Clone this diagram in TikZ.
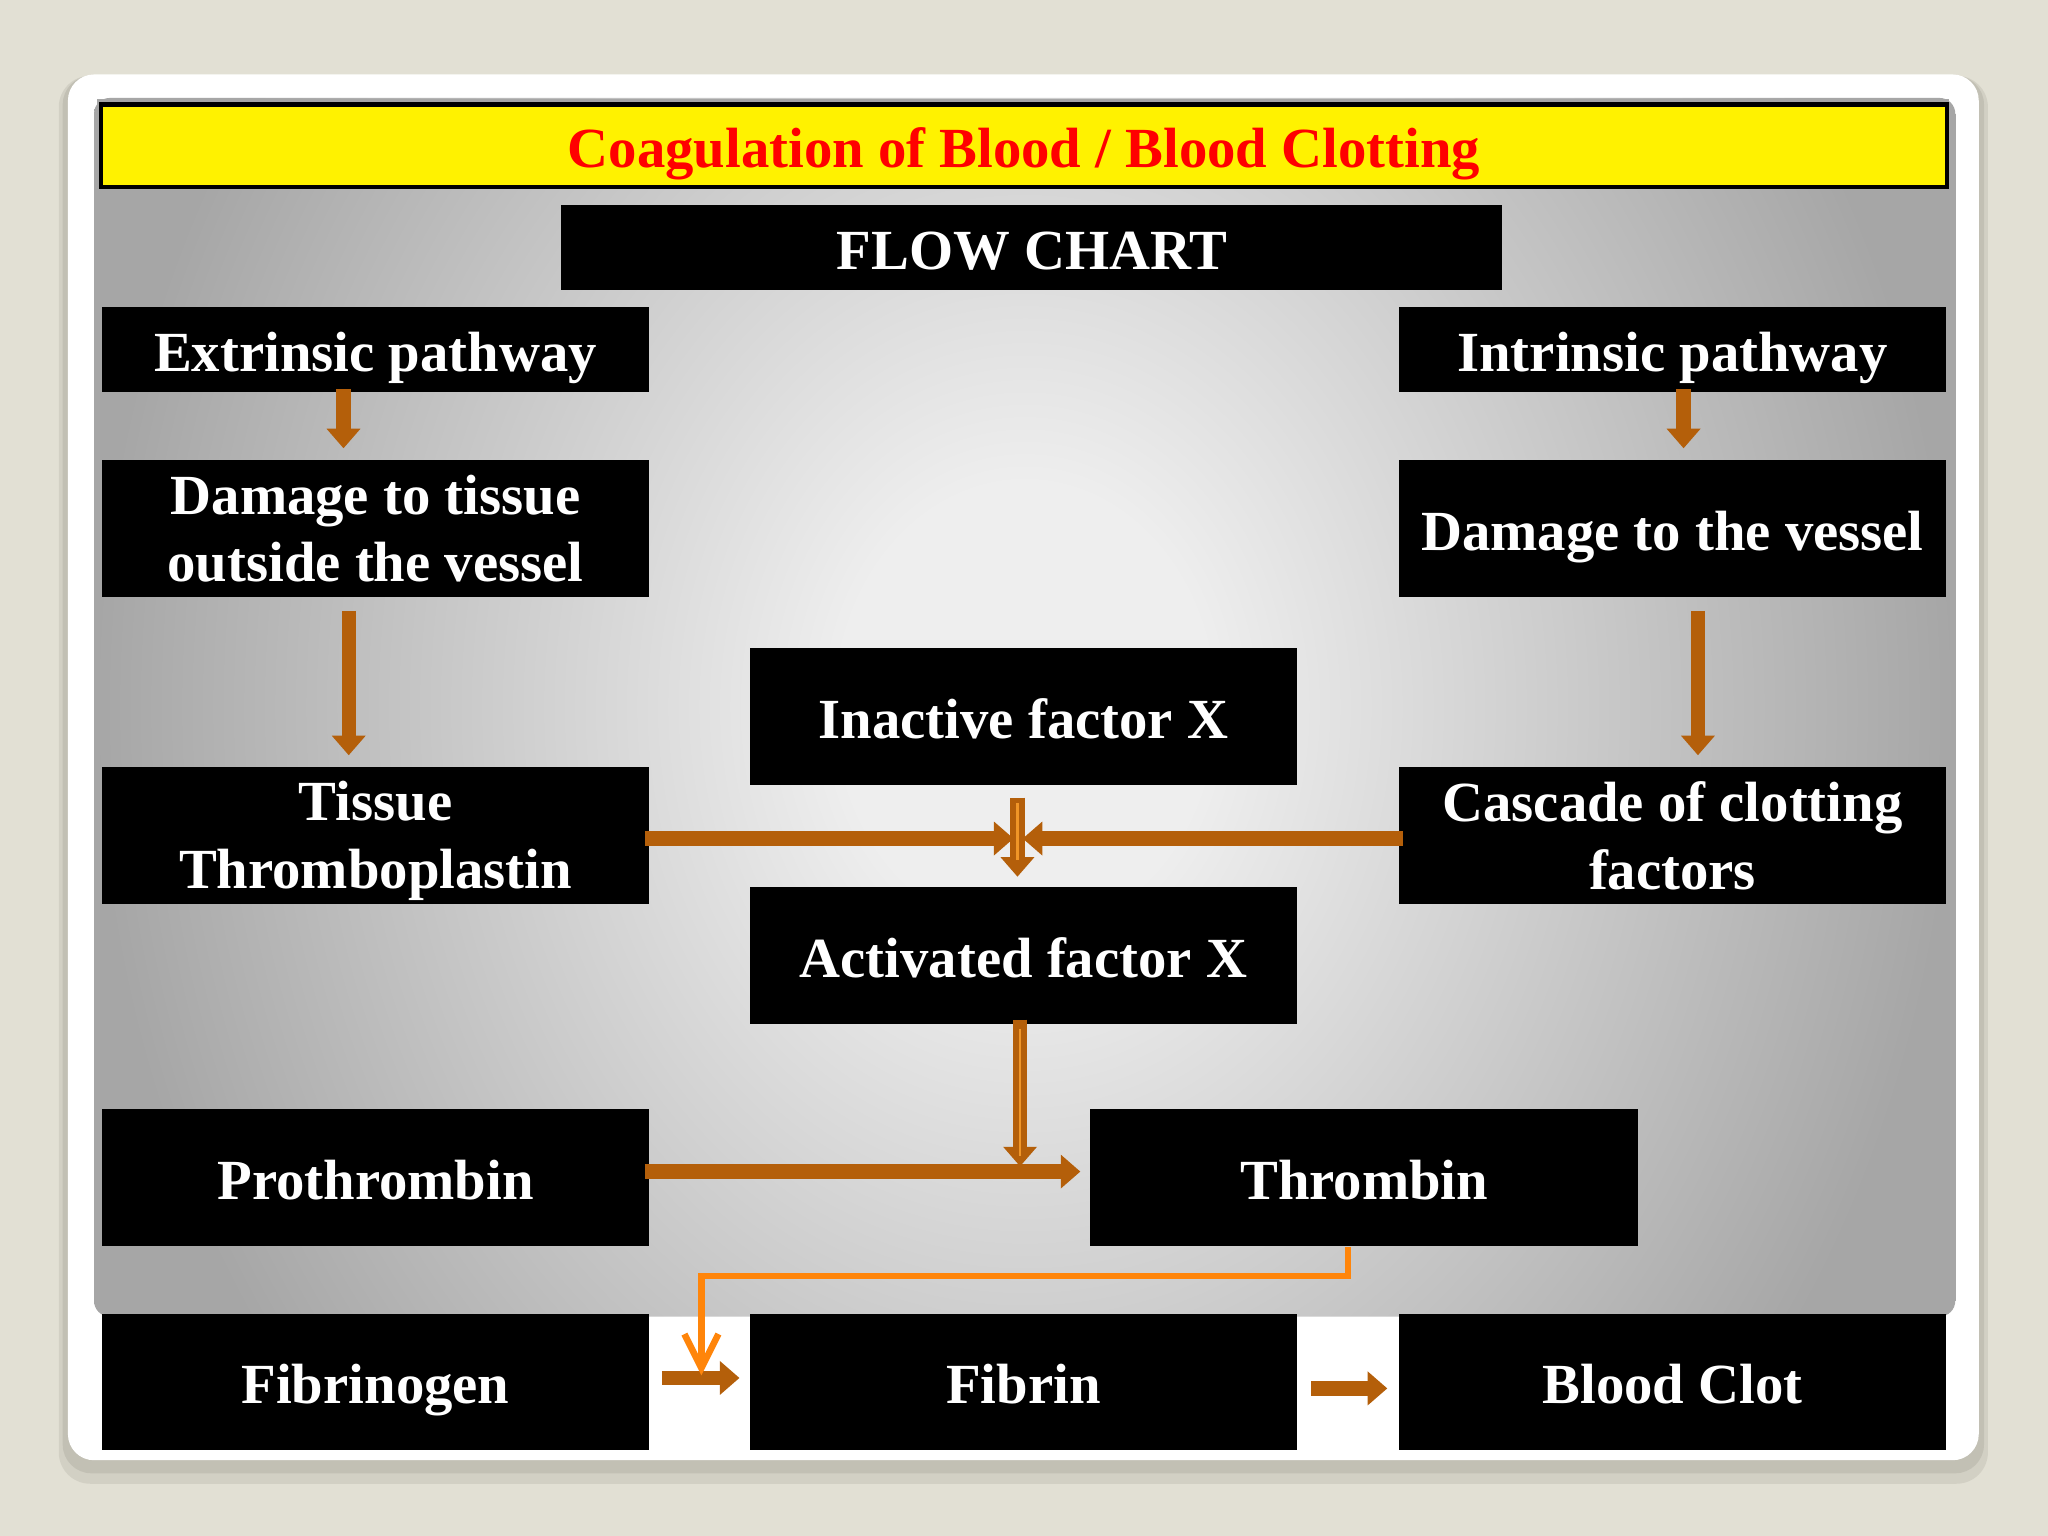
\documentclass[tikz,border=0pt]{standalone}
\usepackage{fontspec}
\setmainfont{Liberation Serif}
\usetikzlibrary{arrows.meta}
\definecolor{bgc}{RGB}{226,224,212}
\definecolor{shadowc}{RGB}{165,163,152}
\definecolor{brownarr}{RGB}{180,95,10}
\definecolor{orangeln}{RGB}{255,133,10}
\definecolor{lightln}{RGB}{240,150,40}
\definecolor{pcenter}{RGB}{238,238,238}
\definecolor{pedge}{RGB}{166,166,166}
\pgfdeclareradialshading{panelgrad}{\pgfpoint{0bp}{0bp}}{color(0bp)=(pcenter); color(5bp)=(pcenter); color(25bp)=(pedge); color(50bp)=(pedge)}
\begin{document}
\begin{tikzpicture}[x=0.01cm,y=-0.01cm,
  txt/.style={font=\fontsize{12.35}{14.8}\selectfont\bfseries,text depth=0pt,execute at begin node={\rule{0pt}{9.6pt}}},
  box/.style={txt,fill=black,text=white,align=center,inner sep=0pt,minimum width=4.19cm,minimum height=1.05cm},
  twoline/.style={box,execute at begin node={\rule{0pt}{11.3pt}}},
  lowbox/.style={box,minimum height=0.65cm},
  barrow/.style={draw=brownarr,line width=0.11cm,-{Triangle[width=0.25cm,length=0.15cm]}},
  oline/.style={draw=orangeln,line width=0.05cm,-{Straight Barb[length=0.26cm,width=0.26cm]}},
  hiline/.style={draw=lightln,line width=0.02cm}]
\useasboundingbox (0,0) rectangle (1568,1176);
\fill[bgc] (0,0) rectangle (1568,1176);
% card shadow and card
\fill[shadowc,opacity=0.25,rounded corners=0.24cm] (45,58) rectangle (1522,1136);
\fill[shadowc,opacity=0.35,rounded corners=0.22cm] (48,58) rectangle (1519,1128);
\fill[white,rounded corners=0.2cm] (52,57) rectangle (1515,1118);
% gradient panel
\begin{scope}
  \clip[rounded corners=0.12cm] (72,75) rectangle (1497,1008);
  \shade[shading=panelgrad] (72,-309) rectangle (1497,1391);
\end{scope}
\fill[gray!70] (74,76) rectangle (1492,84);
% title band
\node[txt,draw=black,line width=0.9pt,fill=yellow,text=red,minimum width=14.12cm,minimum height=0.63cm,inner sep=0pt] (title) at (784,111.5) {Coagulation of Blood / Blood Clotting};
% boxes
\node[lowbox,minimum width=7.2cm] (flow) at (790,189.5) {FLOW CHART};
\node[lowbox] (ext) at (287.5,267.5) {Extrinsic pathway};
\node[lowbox] (intr) at (1280.5,267.5) {Intrinsic pathway};
\node[twoline] (dt) at (287.5,404.5) {Damage to tissue\\outside the vessel};
\node[box] (dv) at (1280.5,404.5) {Damage to the vessel};
\node[box] (ifx) at (783.5,548.5) {Inactive factor X};
\node[twoline] (tt) at (287.5,639.5) {Tissue\\Thromboplastin};
\node[twoline] (cas) at (1280.5,639.5) {Cascade of clotting\\factors};
\node[box] (afx) at (783.5,731.5) {Activated factor X};
\node[box] (pro) at (287.5,901.5) {Prothrombin};
\node[box] (thr) at (1044.5,901.5) {Thrombin};
\node[box,minimum height=1.04cm] (fbg) at (287.5,1058) {Fibrinogen};
\node[box,minimum height=1.04cm] (fbn) at (783.5,1058) {Fibrin};
\node[box,minimum height=1.04cm] (clot) at (1280.5,1058) {Blood Clot};
% helper coordinates
\coordinate (xa) at (263,0);
\coordinate (xb) at (1289,0);
\coordinate (xc) at (267,0);
\coordinate (xd) at (1300,0);
\coordinate (j) at (779,642);
\coordinate (k) at (781,897);
\coordinate (ob) at (1032,977);
\coordinate (oc) at (537,977);
\coordinate (oe) at (537,1053);
\coordinate (ya) at (0,1055);
\coordinate (yb) at (0,1063);
% arrows
\draw[barrow,shorten <=-0.03cm,shorten >=0.08cm] (ext.south -| xa) -- (dt.north -| xa);
\draw[barrow,shorten <=-0.03cm,shorten >=0.08cm] (intr.south -| xb) -- (dv.north -| xb);
\draw[barrow,shorten <=0.1cm,shorten >=0.08cm] (dt.south -| xc) -- (tt.north -| xc);
\draw[barrow,shorten <=0.1cm,shorten >=0.08cm] (dv.south -| xd) -- (cas.north -| xd);
\draw[barrow,shorten <=-0.04cm,shorten >=0.03cm] (tt.east |- j) -- (j);
\draw[barrow,shorten <=-0.04cm,shorten >=0.04cm] (cas.west |- j) -- (j);
\draw[barrow,shorten <=0.09cm,shorten >=0.07cm] (ifx.south -| j) -- (afx.north -| j);
\draw[hiline,shorten <=0.13cm,shorten >=0.2cm] (ifx.south -| j) -- (afx.north -| j);
\draw[barrow,shorten <=-0.04cm,shorten >=0.04cm] (afx.south -| k) -- (k);
\draw[hiline,shorten <=0.03cm,shorten >=0.12cm] (afx.south -| k) -- (k);
\draw[barrow,shorten <=-0.04cm,shorten >=0.07cm] (pro.east |- k) -- (thr.west |- k);
\draw[barrow,shorten <=0.09cm,shorten >=0.07cm] (fbg.east |- ya) -- (fbn.west |- ya);
\draw[barrow,shorten <=0.1cm,shorten >=0.08cm] (fbn.east |- yb) -- (clot.west |- yb);
\draw[oline] (thr.south -| ob) -- (ob) -- (oc) -- (oe);
\end{tikzpicture}
\end{document}
